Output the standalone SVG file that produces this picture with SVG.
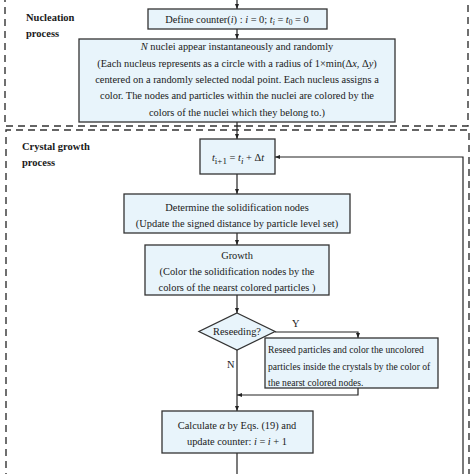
<svg xmlns="http://www.w3.org/2000/svg" width="474" height="474" viewBox="0 0 474 474">
<defs>
<marker id="ah" viewBox="0 0 10 10" refX="10" refY="5" markerWidth="5" markerHeight="5" orient="auto" markerUnits="userSpaceOnUse">
<path d="M0,1 L10,5 L0,9 z" fill="#222"/>
</marker>
<style>
.bx{fill:#e8f4fb;stroke:#333;stroke-width:1.3}
.ln{fill:none;stroke:#222;stroke-width:1.2}
.dash{fill:none;stroke:#333;stroke-width:1.4;stroke-dasharray:7 5}
text{font-family:"Liberation Serif","Times New Roman",serif;fill:#1a1a1a;font-size:10.4px}
.c{text-anchor:middle}
.lbl{font-weight:bold;font-size:10.5px}
.i{font-style:italic}
.rs{font-size:9.6px}
</style>
</defs>
<g id="regions">
<path class="dash" d="M5,-5 V126 H468 V-5"/>
<path class="dash" d="M6,480 V130 H469 V480"/>
<text class="lbl" x="26" y="21">Nucleation</text>
<text class="lbl" x="26" y="37">process</text>
<text class="lbl" x="22" y="150">Crystal growth</text>
<text class="lbl" x="22" y="166">process</text>
</g>
<g id="connectors">
<path class="ln" d="M237,0 V9" marker-end="url(#ah)"/>
<path class="ln" d="M237,29 V39" marker-end="url(#ah)"/>
<path class="ln" d="M237,122 V139" marker-end="url(#ah)"/>
<path class="ln" d="M237,174 V194" marker-end="url(#ah)"/>
<path class="ln" d="M237,233 V245" marker-end="url(#ah)"/>
<path class="ln" d="M237,295 V313" marker-end="url(#ah)"/>
<path class="ln" d="M237,350 V411" marker-end="url(#ah)"/>
<path class="ln" d="M275,332 H358 V338" marker-end="url(#ah)"/>
<path class="ln" d="M358,388 V395 H237" marker-end="url(#ah)"/>
<path class="ln" d="M237,453 V480"/>
<path class="ln" d="M463,480 V157 H275" marker-end="url(#ah)"/>
<text x="292" y="327" font-size="11">Y</text>
<text x="227" y="368" font-size="11">N</text>
</g>
<g id="define">
<rect class="bx" x="148" y="9" width="179" height="20"/>
<text class="c" x="237" y="23" font-size="11.2">Define counter(<tspan class="i">i</tspan>)<tspan> : </tspan><tspan class="i">i</tspan> = 0; <tspan class="i">t</tspan><tspan class="i" dy="2" font-size="7.5">i</tspan><tspan dy="-2"> = </tspan><tspan class="i">t</tspan><tspan dy="2" font-size="7.5">0</tspan><tspan dy="-2"> = 0</tspan></text>
</g>
<g id="nuclei">
<rect class="bx" x="79" y="39" width="316" height="83"/>
<text class="c" x="237" y="50"><tspan class="i">N</tspan> nuclei appear instantaneously and randomly</text>
<text class="c" x="237" y="67">(Each nucleus represents as a circle with a radius of 1×min(Δ<tspan class="i">x</tspan>, Δ<tspan class="i">y</tspan>)</text>
<text class="c" x="237" y="83">centered on a randomly selected nodal point. Each nucleus assigns a</text>
<text class="c" x="237" y="99">color. The nodes and particles within the nuclei are colored by the</text>
<text class="c" x="237" y="116">colors of  the nuclei which they belong to.)</text>
</g>
<g id="timestep">
<rect class="bx" x="200" y="139" width="75" height="35"/>
<text class="c" x="238" y="161" font-size="15"><tspan class="i">t</tspan><tspan dy="3" font-size="9">i+1</tspan><tspan dy="-3"> = </tspan><tspan class="i">t</tspan><tspan class="i" dy="3" font-size="9">i</tspan><tspan dy="-3"> + Δ</tspan><tspan class="i">t</tspan></text>
</g>
<g id="determine">
<rect class="bx" x="124" y="194" width="226" height="39"/>
<text class="c" x="237" y="211">Determine the solidification nodes</text>
<text class="c" x="237" y="227">(Update the signed distance by particle level set)</text>
</g>
<g id="growth">
<rect class="bx" x="145" y="245" width="184" height="50"/>
<text class="c" x="237" y="259">Growth</text>
<text class="c" x="237" y="275">(Color the solidification nodes by the</text>
<text class="c" x="237" y="291">colors of the nearst colored particles )</text>
</g>
<g id="reseeding">
<path class="bx" d="M237,313 L275,331.5 L237,350 L199,331.5 Z"/>
<text class="c" x="237" y="335" font-size="11">Reseeding?</text>
</g>
<g id="reseed">
<rect class="bx" x="265" y="338" width="173" height="50"/>
<text class="rs" x="268" y="353">Reseed particles and color the uncolored</text>
<text class="rs" x="268" y="370">particles inside the crystals by the color of</text>
<text class="rs" x="268" y="386">the nearst colored nodes.</text>
</g>
<g id="calc">
<rect class="bx" x="162" y="411" width="151" height="42"/>
<text class="c" x="237" y="429" font-size="11">Calculate <tspan class="i">α</tspan> by Eqs. (19) and</text>
<text class="c" x="237" y="445" font-size="11">update counter: <tspan class="i">i</tspan> = <tspan class="i">i</tspan> + 1</text>
</g>
</svg>
